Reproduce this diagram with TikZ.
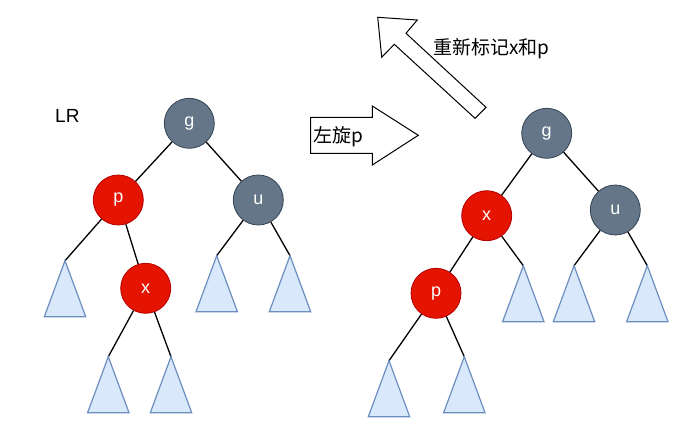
\documentclass[tikz,border=0pt]{standalone}
\usepackage{fontspec}
\setmainfont{Liberation Sans}
\newfontfamily\cjk{Noto Sans CJK SC}
\definecolor{redfill}{HTML}{E51400}
\definecolor{redline}{HTML}{B20000}
\definecolor{grayfill}{HTML}{647687}
\definecolor{grayline}{HTML}{314354}
\definecolor{trifill}{HTML}{DAE8FC}
\definecolor{triline}{HTML}{6C8EBF}
\tikzset{
  rednode/.style={circle, minimum size=50pt, inner sep=0pt, fill=redfill, draw=redline, line width=0.8pt, text=white, font=\fontsize{18}{18}\selectfont},
  graynode/.style={circle, minimum size=50pt, inner sep=0pt, fill=grayfill, draw=grayline, line width=0.8pt, text=white, font=\fontsize{18}{18}\selectfont},
  subtree/.style={fill=trifill, draw=triline, line width=1.2pt, line join=miter},
  link/.style={draw=black, line width=1.3pt},
  blockarrow/.style={draw=black, fill=white, line width=1pt, line join=miter},
  label/.style={inner sep=0pt, font=\fontsize{19}{19}\selectfont}
}
% draws a subtree triangle hanging from the apex coordinate #1
\newcommand{\subtri}[1]{\draw[subtree] (#1) -- ++(-20.7,56) -- ++(41.4,0) -- cycle;}
\begin{document}
\begin{tikzpicture}[x=1pt, y=-1pt]
\useasboundingbox (0,0) rectangle (700,438);

% ---------- before the rotation ----------
\node[label, anchor=west] (lr) at (55,116) {LR};
\node[graynode] (g1) at (189.3,123.3) {g};
\node[rednode]  (p1) at (118.3,200) {p};
\node[graynode] (u1) at (258.3,200) {u};
\node[rednode]  (x1) at (145.7,288.3) {x};

\coordinate (a1) at (65,260.7);
\coordinate (a2) at (216.7,255.7);
\coordinate (a3) at (290,255.7);
\coordinate (a4) at (108.3,356.7);
\coordinate (a5) at (171,356.7);

\draw[link] (g1) -- (p1);
\draw[link] (g1) -- (u1);
\draw[link] (p1) -- (x1);
\draw[link] (p1) -- (a1);
\draw[link] (u1) -- (a2);
\draw[link] (u1) -- (a3);
\draw[link] (x1) -- (a4);
\draw[link] (x1) -- (a5);
\foreach \t in {a1,a2,a3,a4,a5} {\subtri{\t}}

% ---------- rotation arrows ----------
\draw[blockarrow] (310.7,117.3) -- (372.3,117.3) -- (372.3,106) -- (418.3,135.3)
  -- (372.3,165) -- (372.3,153.3) -- (310.7,153.3) -- cycle;
\node[label, anchor=west] (rot) at (313,136.5) {\cjk 左旋p};

\draw[blockarrow] (377.7,17.3) -- (417.3,20) -- (406,33.3) -- (486,107.3)
  -- (475,118.3) -- (394.3,44.3) -- (381.7,57.3) -- cycle;
\node[label, anchor=west] (relabel) at (433,48.5) {\cjk 重新标记x和p};

% ---------- after the rotation ----------
\node[graynode] (g2) at (546.7,133.3) {g};
\node[rednode]  (x2) at (486.7,215.7) {x};
\node[graynode] (u2) at (615.3,210) {u};
\node[rednode]  (p2) at (436,293.3) {p};

\coordinate (b1) at (523.3,265.7);
\coordinate (b2) at (574,265.7);
\coordinate (b3) at (647.3,265.7);
\coordinate (b4) at (389,360.7);
\coordinate (b5) at (464.3,356.7);

\draw[link] (g2) -- (x2);
\draw[link] (g2) -- (u2);
\draw[link] (x2) -- (p2);
\draw[link] (x2) -- (b1);
\draw[link] (u2) -- (b2);
\draw[link] (u2) -- (b3);
\draw[link] (p2) -- (b4);
\draw[link] (p2) -- (b5);
\foreach \t in {b1,b2,b3,b4,b5} {\subtri{\t}}
\end{tikzpicture}
\end{document}
